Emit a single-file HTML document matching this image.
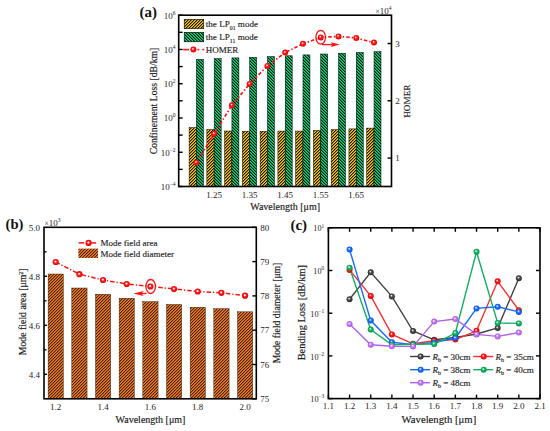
<!DOCTYPE html><html><head><meta charset="utf-8"><style>
html,body{margin:0;padding:0;background:#fff;width:550px;height:431px;overflow:hidden}
svg{display:block}
text{font-family:"Liberation Serif", serif;fill:#1e1e1e}
.ti{stroke:#1e1e1e;stroke-width:0.18px}
.lg{stroke:#1e1e1e;stroke-width:0.15px}
</style></head><body>
<svg width="550" height="431" viewBox="0 0 550 431">
<defs>
<pattern id="hy" patternUnits="userSpaceOnUse" width="3" height="3">
<rect width="3" height="3" fill="#ffcc00"/><rect x="0" y="0" width="1" height="1" fill="#161000"/><rect x="1" y="2" width="1" height="1" fill="#161000"/><rect x="2" y="1" width="1" height="1" fill="#161000"/>
<rect x="1" y="0" width="1" height="1" fill="#403000" fill-opacity="0.5"/><rect x="2" y="2" width="1" height="1" fill="#403000" fill-opacity="0.5"/><rect x="0" y="1" width="1" height="1" fill="#403000" fill-opacity="0.5"/></pattern>
<pattern id="hg" patternUnits="userSpaceOnUse" width="3" height="3">
<rect width="3" height="3" fill="#00dc80"/><rect x="0" y="0" width="1" height="1" fill="#00140a"/><rect x="1" y="1" width="1" height="1" fill="#00140a"/><rect x="2" y="2" width="1" height="1" fill="#00140a"/>
<rect x="1" y="0" width="1" height="1" fill="#003a20" fill-opacity="0.5"/><rect x="2" y="1" width="1" height="1" fill="#003a20" fill-opacity="0.5"/><rect x="0" y="2" width="1" height="1" fill="#003a20" fill-opacity="0.5"/></pattern>
<pattern id="hb" patternUnits="userSpaceOnUse" width="3" height="3">
<rect width="3" height="3" fill="#ff7a10"/><rect x="0" y="0" width="1" height="1" fill="#30221a"/><rect x="1" y="2" width="1" height="1" fill="#3a2a20"/><rect x="2" y="1" width="1" height="1" fill="#3a2a20"/>
<rect x="1" y="0" width="1" height="1" fill="#4a2810" fill-opacity="0.4"/><rect x="2" y="2" width="1" height="1" fill="#4a2810" fill-opacity="0.4"/><rect x="0" y="1" width="1" height="1" fill="#4a2810" fill-opacity="0.4"/></pattern>

<radialGradient id="gr" cx="0.5" cy="0.5" r="0.5" fx="0.4" fy="0.35"><stop offset="0" stop-color="#fff"/><stop offset="0.06" stop-color="#fff"/><stop offset="0.41" stop-color="#ff2020"/><stop offset="1" stop-color="#e80000"/></radialGradient>
<radialGradient id="gr2" cx="0.5" cy="0.5" r="0.5" fx="0.44" fy="0.4"><stop offset="0" stop-color="#fff"/><stop offset="0.16" stop-color="#fff"/><stop offset="0.45999999999999996" stop-color="#ff2020"/><stop offset="1" stop-color="#e80000"/></radialGradient>
<radialGradient id="gk" cx="0.5" cy="0.5" r="0.5" fx="0.4" fy="0.35"><stop offset="0" stop-color="#fff"/><stop offset="0.06" stop-color="#fff"/><stop offset="0.41" stop-color="#555555"/><stop offset="1" stop-color="#2a2a2a"/></radialGradient>
<radialGradient id="gb" cx="0.5" cy="0.5" r="0.5" fx="0.4" fy="0.35"><stop offset="0" stop-color="#fff"/><stop offset="0.06" stop-color="#fff"/><stop offset="0.41" stop-color="#2a78ff"/><stop offset="1" stop-color="#0050e8"/></radialGradient>
<radialGradient id="gg" cx="0.5" cy="0.5" r="0.5" fx="0.4" fy="0.35"><stop offset="0" stop-color="#fff"/><stop offset="0.06" stop-color="#fff"/><stop offset="0.41" stop-color="#20c070"/><stop offset="1" stop-color="#009048"/></radialGradient>
<radialGradient id="gp" cx="0.5" cy="0.5" r="0.5" fx="0.4" fy="0.35"><stop offset="0" stop-color="#fff"/><stop offset="0.06" stop-color="#fff"/><stop offset="0.41" stop-color="#c880f8"/><stop offset="1" stop-color="#a858e8"/></radialGradient>
</defs>
<rect x="189.10" y="127.60" width="7.3" height="58.90" fill="url(#hy)" stroke="#000" stroke-width="0.5"/>
<rect x="196.40" y="59.30" width="7.0" height="127.20" fill="url(#hg)" stroke="#000" stroke-width="0.5"/>
<rect x="206.86" y="129.60" width="7.3" height="56.90" fill="url(#hy)" stroke="#000" stroke-width="0.5"/>
<rect x="214.16" y="58.60" width="7.0" height="127.90" fill="url(#hg)" stroke="#000" stroke-width="0.5"/>
<rect x="224.62" y="131.00" width="7.3" height="55.50" fill="url(#hy)" stroke="#000" stroke-width="0.5"/>
<rect x="231.92" y="57.90" width="7.0" height="128.60" fill="url(#hg)" stroke="#000" stroke-width="0.5"/>
<rect x="242.38" y="131.30" width="7.3" height="55.20" fill="url(#hy)" stroke="#000" stroke-width="0.5"/>
<rect x="249.68" y="57.30" width="7.0" height="129.20" fill="url(#hg)" stroke="#000" stroke-width="0.5"/>
<rect x="260.14" y="131.30" width="7.3" height="55.20" fill="url(#hy)" stroke="#000" stroke-width="0.5"/>
<rect x="267.44" y="56.60" width="7.0" height="129.90" fill="url(#hg)" stroke="#000" stroke-width="0.5"/>
<rect x="277.90" y="131.10" width="7.3" height="55.40" fill="url(#hy)" stroke="#000" stroke-width="0.5"/>
<rect x="285.20" y="55.80" width="7.0" height="130.70" fill="url(#hg)" stroke="#000" stroke-width="0.5"/>
<rect x="295.66" y="131.10" width="7.3" height="55.40" fill="url(#hy)" stroke="#000" stroke-width="0.5"/>
<rect x="302.96" y="54.90" width="7.0" height="131.60" fill="url(#hg)" stroke="#000" stroke-width="0.5"/>
<rect x="313.42" y="130.50" width="7.3" height="56.00" fill="url(#hy)" stroke="#000" stroke-width="0.5"/>
<rect x="320.72" y="54.00" width="7.0" height="132.50" fill="url(#hg)" stroke="#000" stroke-width="0.5"/>
<rect x="331.18" y="129.60" width="7.3" height="56.90" fill="url(#hy)" stroke="#000" stroke-width="0.5"/>
<rect x="338.48" y="53.20" width="7.0" height="133.30" fill="url(#hg)" stroke="#000" stroke-width="0.5"/>
<rect x="348.94" y="128.90" width="7.3" height="57.60" fill="url(#hy)" stroke="#000" stroke-width="0.5"/>
<rect x="356.24" y="52.50" width="7.0" height="134.00" fill="url(#hg)" stroke="#000" stroke-width="0.5"/>
<rect x="366.70" y="128.10" width="7.3" height="58.40" fill="url(#hy)" stroke="#000" stroke-width="0.5"/>
<rect x="374.00" y="51.70" width="7.0" height="134.80" fill="url(#hg)" stroke="#000" stroke-width="0.5"/>
<polyline points="196.40,162.60 214.16,133.80 231.92,105.20 249.68,83.90 267.44,65.90 285.20,52.60 302.96,43.80 320.72,37.40 338.48,36.40 356.24,38.00 374.00,42.60" fill="none" stroke="#ff1414" stroke-width="1.7" stroke-dasharray="3.4,2.1,1.4,2.1"/>
<circle cx="196.40" cy="162.60" r="3.0" fill="url(#gr)"/>
<circle cx="214.16" cy="133.80" r="3.0" fill="url(#gr)"/>
<circle cx="231.92" cy="105.20" r="3.0" fill="url(#gr)"/>
<circle cx="249.68" cy="83.90" r="3.0" fill="url(#gr)"/>
<circle cx="267.44" cy="65.90" r="3.0" fill="url(#gr)"/>
<circle cx="285.20" cy="52.60" r="3.0" fill="url(#gr)"/>
<circle cx="302.96" cy="43.80" r="3.0" fill="url(#gr)"/>
<circle cx="320.72" cy="37.40" r="3.0" fill="url(#gr)"/>
<circle cx="338.48" cy="36.40" r="3.0" fill="url(#gr)"/>
<circle cx="356.24" cy="38.00" r="3.0" fill="url(#gr)"/>
<circle cx="374.00" cy="42.60" r="3.0" fill="url(#gr)"/>
<ellipse cx="320.7" cy="37.2" rx="4.8" ry="6.9" fill="none" stroke="#ff1414" stroke-width="1.3"/>
<line x1="322.00" y1="44.60" x2="333.00" y2="44.60" stroke="#ff1414" stroke-width="1.3" />
<polygon points="339.8,44.6 330.8,42.2 332.3,44.6 330.8,47" fill="#ff1414"/>
<rect x="178.7" y="15.2" width="212.8" height="171.3" fill="none" stroke="#000" stroke-width="1.6"/>
<line x1="178.70" y1="186.50" x2="182.70" y2="186.50" stroke="#000" stroke-width="1.4" />
<text x="175.50" y="189.90" font-size="9" text-anchor="end" font-weight="normal" >10<tspan dy="-4" font-size="5.5">&#8722;4</tspan></text>
<line x1="178.70" y1="169.37" x2="182.70" y2="169.37" stroke="#000" stroke-width="1.4" />
<line x1="178.70" y1="152.24" x2="182.70" y2="152.24" stroke="#000" stroke-width="1.4" />
<text x="175.50" y="155.64" font-size="9" text-anchor="end" font-weight="normal" >10<tspan dy="-4" font-size="5.5">&#8722;2</tspan></text>
<line x1="178.70" y1="135.11" x2="182.70" y2="135.11" stroke="#000" stroke-width="1.4" />
<line x1="178.70" y1="117.98" x2="182.70" y2="117.98" stroke="#000" stroke-width="1.4" />
<text x="175.50" y="121.38" font-size="9" text-anchor="end" font-weight="normal" >10<tspan dy="-4" font-size="5.5">0</tspan></text>
<line x1="178.70" y1="100.85" x2="182.70" y2="100.85" stroke="#000" stroke-width="1.4" />
<line x1="178.70" y1="83.72" x2="182.70" y2="83.72" stroke="#000" stroke-width="1.4" />
<text x="175.50" y="87.12" font-size="9" text-anchor="end" font-weight="normal" >10<tspan dy="-4" font-size="5.5">2</tspan></text>
<line x1="178.70" y1="66.59" x2="182.70" y2="66.59" stroke="#000" stroke-width="1.4" />
<line x1="178.70" y1="49.46" x2="182.70" y2="49.46" stroke="#000" stroke-width="1.4" />
<text x="175.50" y="52.86" font-size="9" text-anchor="end" font-weight="normal" >10<tspan dy="-4" font-size="5.5">4</tspan></text>
<line x1="178.70" y1="32.33" x2="182.70" y2="32.33" stroke="#000" stroke-width="1.4" />
<line x1="178.70" y1="15.20" x2="182.70" y2="15.20" stroke="#000" stroke-width="1.4" />
<text x="175.50" y="18.60" font-size="9" text-anchor="end" font-weight="normal" >10<tspan dy="-4" font-size="5.5">6</tspan></text>
<line x1="387.50" y1="158.10" x2="391.50" y2="158.10" stroke="#000" stroke-width="1.4" />
<text x="395.30" y="161.30" font-size="9" text-anchor="start" font-weight="normal" >1</text>
<line x1="387.50" y1="100.80" x2="391.50" y2="100.80" stroke="#000" stroke-width="1.4" />
<text x="395.30" y="104.00" font-size="9" text-anchor="start" font-weight="normal" >2</text>
<line x1="387.50" y1="43.50" x2="391.50" y2="43.50" stroke="#000" stroke-width="1.4" />
<text x="395.30" y="46.70" font-size="9" text-anchor="start" font-weight="normal" >3</text>
<text x="391.50" y="13.60" font-size="9" text-anchor="end" font-weight="normal" ><tspan font-size="7.5">&#215;</tspan>10<tspan dy="-4" font-size="5.5">4</tspan></text>
<text x="214.16" y="197.50" font-size="9" text-anchor="middle" font-weight="normal" >1.25</text>
<text x="249.68" y="197.50" font-size="9" text-anchor="middle" font-weight="normal" >1.35</text>
<text x="285.20" y="197.50" font-size="9" text-anchor="middle" font-weight="normal" >1.45</text>
<text x="320.72" y="197.50" font-size="9" text-anchor="middle" font-weight="normal" >1.55</text>
<text x="356.24" y="197.50" font-size="9" text-anchor="middle" font-weight="normal" >1.65</text>
<text x="285.20" y="209.90" font-size="10" text-anchor="middle" font-weight="normal" class="ti">Wavelength [&#956;m]</text>
<text x="0" y="0" font-size="9.7" text-anchor="middle" class="ti" transform="translate(156.60,101.00) rotate(-90)">Confinement Loss [dB/km]</text>
<text x="0" y="0" font-size="9.2" text-anchor="middle" class="ti" transform="translate(410.40,101.20) rotate(-90)">HOMER</text>
<text x="139.50" y="16.90" font-size="15" text-anchor="start" font-weight="bold" style="fill:#111">(a)</text>
<rect x="184.2" y="19.4" width="19.5" height="9.3" fill="url(#hy)" stroke="#000" stroke-width="0.6"/>
<rect x="184.2" y="32.3" width="19.5" height="9.5" fill="url(#hg)" stroke="#000" stroke-width="0.6"/>
<text x="205.80" y="27.10" font-size="9.1" text-anchor="start" font-weight="normal" class="lg">the LP<tspan dy="3" font-size="5.8">01</tspan><tspan dy="-3"> mode</tspan></text>
<text x="205.80" y="39.90" font-size="9.1" text-anchor="start" font-weight="normal" class="lg">the LP<tspan dy="3" font-size="5.8">11</tspan><tspan dy="-3"> mode</tspan></text>
<line x1="183.20" y1="49.60" x2="189.00" y2="49.60" stroke="#ff1414" stroke-width="1.6" />
<line x1="197.50" y1="49.60" x2="199.30" y2="49.60" stroke="#ff1414" stroke-width="1.6" />
<line x1="202.40" y1="49.60" x2="204.20" y2="49.60" stroke="#ff1414" stroke-width="1.6" />
<circle cx="193.40" cy="49.60" r="3.0" fill="url(#gr)"/>
<text x="205.80" y="53.00" font-size="9.0" text-anchor="start" font-weight="normal" class="lg">HOMER</text>
<rect x="48.10" y="274.00" width="15.3" height="124.80" fill="url(#hb)" stroke="#2a1a10" stroke-width="0.4"/>
<rect x="71.77" y="288.00" width="15.3" height="110.80" fill="url(#hb)" stroke="#2a1a10" stroke-width="0.4"/>
<rect x="95.44" y="294.20" width="15.3" height="104.60" fill="url(#hb)" stroke="#2a1a10" stroke-width="0.4"/>
<rect x="119.11" y="298.20" width="15.3" height="100.60" fill="url(#hb)" stroke="#2a1a10" stroke-width="0.4"/>
<rect x="142.78" y="301.60" width="15.3" height="97.20" fill="url(#hb)" stroke="#2a1a10" stroke-width="0.4"/>
<rect x="166.45" y="304.40" width="15.3" height="94.40" fill="url(#hb)" stroke="#2a1a10" stroke-width="0.4"/>
<rect x="190.12" y="307.20" width="15.3" height="91.60" fill="url(#hb)" stroke="#2a1a10" stroke-width="0.4"/>
<rect x="213.79" y="308.60" width="15.3" height="90.20" fill="url(#hb)" stroke="#2a1a10" stroke-width="0.4"/>
<rect x="237.46" y="311.80" width="15.3" height="87.00" fill="url(#hb)" stroke="#2a1a10" stroke-width="0.4"/>
<polyline points="55.70,262.00 79.37,274.20 103.04,280.00 126.71,284.00 150.38,286.50 174.05,289.00 197.72,291.50 221.39,292.80 245.06,295.70" fill="none" stroke="#ff1414" stroke-width="1.5" stroke-dasharray="4.5,2,1.2,2"/>
<circle cx="55.70" cy="262.00" r="3.1" fill="url(#gr2)"/>
<circle cx="79.37" cy="274.20" r="3.1" fill="url(#gr2)"/>
<circle cx="103.04" cy="280.00" r="3.1" fill="url(#gr2)"/>
<circle cx="126.71" cy="284.00" r="3.1" fill="url(#gr2)"/>
<circle cx="150.38" cy="286.50" r="3.1" fill="url(#gr2)"/>
<circle cx="174.05" cy="289.00" r="3.1" fill="url(#gr2)"/>
<circle cx="197.72" cy="291.50" r="3.1" fill="url(#gr2)"/>
<circle cx="221.39" cy="292.80" r="3.1" fill="url(#gr2)"/>
<circle cx="245.06" cy="295.70" r="3.1" fill="url(#gr2)"/>
<ellipse cx="150.7" cy="286.5" rx="4.8" ry="7" fill="none" stroke="#ff1414" stroke-width="1.3"/>
<line x1="146.60" y1="293.50" x2="139.00" y2="293.50" stroke="#ff1414" stroke-width="1.3" />
<polygon points="133.6,293.5 143.4,291 141.8,293.5 143.4,296" fill="#ff1414"/>
<rect x="44" y="227.3" width="212.3" height="171.5" fill="none" stroke="#000" stroke-width="1.6"/>
<line x1="44.00" y1="374.30" x2="47.00" y2="374.30" stroke="#000" stroke-width="1.4" />
<text x="40.00" y="377.50" font-size="9" text-anchor="end" font-weight="normal" >4.4</text>
<line x1="44.00" y1="349.80" x2="46.50" y2="349.80" stroke="#000" stroke-width="1.4" />
<line x1="44.00" y1="325.30" x2="47.00" y2="325.30" stroke="#000" stroke-width="1.4" />
<text x="40.00" y="328.50" font-size="9" text-anchor="end" font-weight="normal" >4.6</text>
<line x1="44.00" y1="300.80" x2="46.50" y2="300.80" stroke="#000" stroke-width="1.4" />
<line x1="44.00" y1="276.30" x2="47.00" y2="276.30" stroke="#000" stroke-width="1.4" />
<text x="40.00" y="279.50" font-size="9" text-anchor="end" font-weight="normal" >4.8</text>
<line x1="44.00" y1="251.80" x2="46.50" y2="251.80" stroke="#000" stroke-width="1.4" />
<text x="40.00" y="230.50" font-size="9" text-anchor="end" font-weight="normal" >5.0</text>
<line x1="252.30" y1="398.80" x2="256.30" y2="398.80" stroke="#000" stroke-width="1.4" />
<text x="260.30" y="402.00" font-size="9" text-anchor="start" font-weight="normal" >75</text>
<line x1="252.30" y1="364.50" x2="256.30" y2="364.50" stroke="#000" stroke-width="1.4" />
<text x="260.30" y="367.70" font-size="9" text-anchor="start" font-weight="normal" >76</text>
<line x1="252.30" y1="330.20" x2="256.30" y2="330.20" stroke="#000" stroke-width="1.4" />
<text x="260.30" y="333.40" font-size="9" text-anchor="start" font-weight="normal" >77</text>
<line x1="252.30" y1="295.90" x2="256.30" y2="295.90" stroke="#000" stroke-width="1.4" />
<text x="260.30" y="299.10" font-size="9" text-anchor="start" font-weight="normal" >78</text>
<line x1="252.30" y1="261.60" x2="256.30" y2="261.60" stroke="#000" stroke-width="1.4" />
<text x="260.30" y="264.80" font-size="9" text-anchor="start" font-weight="normal" >79</text>
<line x1="252.30" y1="227.30" x2="256.30" y2="227.30" stroke="#000" stroke-width="1.4" />
<text x="260.30" y="230.50" font-size="9" text-anchor="start" font-weight="normal" >80</text>
<text x="44.50" y="225.50" font-size="9" text-anchor="start" font-weight="normal" ><tspan font-size="7.5">&#215;</tspan>10<tspan dy="-4" font-size="5.5">3</tspan></text>
<text x="55.70" y="409.90" font-size="9" text-anchor="middle" font-weight="normal" >1.2</text>
<text x="103.04" y="409.90" font-size="9" text-anchor="middle" font-weight="normal" >1.4</text>
<text x="150.38" y="409.90" font-size="9" text-anchor="middle" font-weight="normal" >1.6</text>
<text x="197.72" y="409.90" font-size="9" text-anchor="middle" font-weight="normal" >1.8</text>
<text x="245.06" y="409.90" font-size="9" text-anchor="middle" font-weight="normal" >2.0</text>
<text x="150.50" y="423.00" font-size="10" text-anchor="middle" font-weight="normal" class="ti">Wavelength [&#956;m]</text>
<text x="0" y="0" font-size="9.8" text-anchor="middle" class="ti" transform="translate(26.20,311.80) rotate(-90)">Mode field area [&#956;m<tspan dy="-3.5" font-size="6">2</tspan><tspan dy="3.5">]</tspan></text>
<text x="0" y="0" font-size="9.7" text-anchor="middle" class="ti" transform="translate(280.30,313.00) rotate(-90)">Mode field diameter [&#956;m]</text>
<text x="5.60" y="229.30" font-size="14.6" text-anchor="start" font-weight="bold" style="fill:#111">(b)</text>
<line x1="78.60" y1="242.90" x2="84.20" y2="242.90" stroke="#ff1414" stroke-width="1.5" />
<line x1="91.50" y1="242.90" x2="96.20" y2="242.90" stroke="#ff1414" stroke-width="1.5" />
<circle cx="88.60" cy="242.90" r="3.1" fill="url(#gr2)"/>
<rect x="78.4" y="248.6" width="19.6" height="9.4" fill="url(#hb)"/>
<text x="100.60" y="245.60" font-size="9" text-anchor="start" font-weight="normal" class="lg">Mode field area</text>
<text x="100.60" y="256.60" font-size="9" text-anchor="start" font-weight="normal" class="lg">Mode field diameter</text>
<polyline points="349.56,299.20 370.72,272.30 391.88,296.40 413.04,331.00 434.20,339.80 455.36,337.50 476.52,334.00 497.68,328.00 518.84,278.20" fill="none" stroke="#404040" stroke-width="1.4"/>
<polyline points="349.56,269.90 370.72,295.90 391.88,334.50 413.04,343.80 434.20,340.70 455.36,339.60 476.52,330.80 497.68,281.30 518.84,310.20" fill="none" stroke="#ff2a2a" stroke-width="1.4"/>
<polyline points="349.56,249.50 370.72,320.60 391.88,342.30 413.04,344.60 434.20,342.50 455.36,338.00 476.52,308.40 497.68,306.80 518.84,311.90" fill="none" stroke="#1a6aff" stroke-width="1.4"/>
<polyline points="349.56,267.70 370.72,329.50 391.88,344.70 413.04,344.30 434.20,344.00 455.36,333.00 476.52,251.80 497.68,322.90 518.84,323.40" fill="none" stroke="#10b060" stroke-width="1.4"/>
<polyline points="349.56,324.00 370.72,344.70 391.88,346.30 413.04,346.40 434.20,321.60 455.36,319.00 476.52,334.40 497.68,336.40 518.84,332.60" fill="none" stroke="#b060f0" stroke-width="1.4"/>
<circle cx="349.56" cy="299.20" r="3" fill="url(#gk)"/>
<circle cx="370.72" cy="272.30" r="3" fill="url(#gk)"/>
<circle cx="391.88" cy="296.40" r="3" fill="url(#gk)"/>
<circle cx="413.04" cy="331.00" r="3" fill="url(#gk)"/>
<circle cx="434.20" cy="339.80" r="3" fill="url(#gk)"/>
<circle cx="455.36" cy="337.50" r="3" fill="url(#gk)"/>
<circle cx="476.52" cy="334.00" r="3" fill="url(#gk)"/>
<circle cx="497.68" cy="328.00" r="3" fill="url(#gk)"/>
<circle cx="518.84" cy="278.20" r="3" fill="url(#gk)"/>
<circle cx="349.56" cy="269.90" r="3" fill="url(#gr)"/>
<circle cx="370.72" cy="295.90" r="3" fill="url(#gr)"/>
<circle cx="391.88" cy="334.50" r="3" fill="url(#gr)"/>
<circle cx="413.04" cy="343.80" r="3" fill="url(#gr)"/>
<circle cx="434.20" cy="340.70" r="3" fill="url(#gr)"/>
<circle cx="455.36" cy="339.60" r="3" fill="url(#gr)"/>
<circle cx="476.52" cy="330.80" r="3" fill="url(#gr)"/>
<circle cx="497.68" cy="281.30" r="3" fill="url(#gr)"/>
<circle cx="518.84" cy="310.20" r="3" fill="url(#gr)"/>
<circle cx="349.56" cy="249.50" r="3" fill="url(#gb)"/>
<circle cx="370.72" cy="320.60" r="3" fill="url(#gb)"/>
<circle cx="391.88" cy="342.30" r="3" fill="url(#gb)"/>
<circle cx="413.04" cy="344.60" r="3" fill="url(#gb)"/>
<circle cx="434.20" cy="342.50" r="3" fill="url(#gb)"/>
<circle cx="455.36" cy="338.00" r="3" fill="url(#gb)"/>
<circle cx="476.52" cy="308.40" r="3" fill="url(#gb)"/>
<circle cx="497.68" cy="306.80" r="3" fill="url(#gb)"/>
<circle cx="518.84" cy="311.90" r="3" fill="url(#gb)"/>
<circle cx="349.56" cy="267.70" r="3" fill="url(#gg)"/>
<circle cx="370.72" cy="329.50" r="3" fill="url(#gg)"/>
<circle cx="391.88" cy="344.70" r="3" fill="url(#gg)"/>
<circle cx="413.04" cy="344.30" r="3" fill="url(#gg)"/>
<circle cx="434.20" cy="344.00" r="3" fill="url(#gg)"/>
<circle cx="455.36" cy="333.00" r="3" fill="url(#gg)"/>
<circle cx="476.52" cy="251.80" r="3" fill="url(#gg)"/>
<circle cx="497.68" cy="322.90" r="3" fill="url(#gg)"/>
<circle cx="518.84" cy="323.40" r="3" fill="url(#gg)"/>
<circle cx="349.56" cy="324.00" r="3" fill="url(#gp)"/>
<circle cx="370.72" cy="344.70" r="3" fill="url(#gp)"/>
<circle cx="391.88" cy="346.30" r="3" fill="url(#gp)"/>
<circle cx="413.04" cy="346.40" r="3" fill="url(#gp)"/>
<circle cx="434.20" cy="321.60" r="3" fill="url(#gp)"/>
<circle cx="455.36" cy="319.00" r="3" fill="url(#gp)"/>
<circle cx="476.52" cy="334.40" r="3" fill="url(#gp)"/>
<circle cx="497.68" cy="336.40" r="3" fill="url(#gp)"/>
<circle cx="518.84" cy="332.60" r="3" fill="url(#gp)"/>
<rect x="328.4" y="227.8" width="211.60000000000002" height="170.8" fill="none" stroke="#000" stroke-width="1.6"/>
<line x1="328.40" y1="398.60" x2="332.40" y2="398.60" stroke="#000" stroke-width="1.4" />
<line x1="536.00" y1="398.60" x2="540.00" y2="398.60" stroke="#000" stroke-width="1.4" />
<text x="324.20" y="402.20" font-size="8.2" text-anchor="end" font-weight="normal" >10<tspan dy="-3.8" font-size="5.3">&#8722;3</tspan></text>
<line x1="328.40" y1="355.90" x2="332.40" y2="355.90" stroke="#000" stroke-width="1.4" />
<line x1="536.00" y1="355.90" x2="540.00" y2="355.90" stroke="#000" stroke-width="1.4" />
<text x="324.20" y="359.50" font-size="8.2" text-anchor="end" font-weight="normal" >10<tspan dy="-3.8" font-size="5.3">&#8722;2</tspan></text>
<line x1="328.40" y1="313.20" x2="332.40" y2="313.20" stroke="#000" stroke-width="1.4" />
<line x1="536.00" y1="313.20" x2="540.00" y2="313.20" stroke="#000" stroke-width="1.4" />
<text x="324.20" y="316.80" font-size="8.2" text-anchor="end" font-weight="normal" >10<tspan dy="-3.8" font-size="5.3">&#8722;1</tspan></text>
<line x1="328.40" y1="270.50" x2="332.40" y2="270.50" stroke="#000" stroke-width="1.4" />
<line x1="536.00" y1="270.50" x2="540.00" y2="270.50" stroke="#000" stroke-width="1.4" />
<text x="324.20" y="274.10" font-size="8.2" text-anchor="end" font-weight="normal" >10<tspan dy="-3.8" font-size="5.3">0</tspan></text>
<line x1="328.40" y1="227.80" x2="332.40" y2="227.80" stroke="#000" stroke-width="1.4" />
<line x1="536.00" y1="227.80" x2="540.00" y2="227.80" stroke="#000" stroke-width="1.4" />
<text x="324.20" y="231.40" font-size="8.2" text-anchor="end" font-weight="normal" >10<tspan dy="-3.8" font-size="5.3">1</tspan></text>
<line x1="328.40" y1="398.60" x2="328.40" y2="394.60" stroke="#000" stroke-width="1.4" />
<line x1="328.40" y1="227.80" x2="328.40" y2="231.80" stroke="#000" stroke-width="1.4" />
<text x="328.40" y="409.30" font-size="9" text-anchor="middle" font-weight="normal" >1.1</text>
<line x1="349.56" y1="398.60" x2="349.56" y2="394.60" stroke="#000" stroke-width="1.4" />
<line x1="349.56" y1="227.80" x2="349.56" y2="231.80" stroke="#000" stroke-width="1.4" />
<text x="349.56" y="409.30" font-size="9" text-anchor="middle" font-weight="normal" >1.2</text>
<line x1="370.72" y1="398.60" x2="370.72" y2="394.60" stroke="#000" stroke-width="1.4" />
<line x1="370.72" y1="227.80" x2="370.72" y2="231.80" stroke="#000" stroke-width="1.4" />
<text x="370.72" y="409.30" font-size="9" text-anchor="middle" font-weight="normal" >1.3</text>
<line x1="391.88" y1="398.60" x2="391.88" y2="394.60" stroke="#000" stroke-width="1.4" />
<line x1="391.88" y1="227.80" x2="391.88" y2="231.80" stroke="#000" stroke-width="1.4" />
<text x="391.88" y="409.30" font-size="9" text-anchor="middle" font-weight="normal" >1.4</text>
<line x1="413.04" y1="398.60" x2="413.04" y2="394.60" stroke="#000" stroke-width="1.4" />
<line x1="413.04" y1="227.80" x2="413.04" y2="231.80" stroke="#000" stroke-width="1.4" />
<text x="413.04" y="409.30" font-size="9" text-anchor="middle" font-weight="normal" >1.5</text>
<line x1="434.20" y1="398.60" x2="434.20" y2="394.60" stroke="#000" stroke-width="1.4" />
<line x1="434.20" y1="227.80" x2="434.20" y2="231.80" stroke="#000" stroke-width="1.4" />
<text x="434.20" y="409.30" font-size="9" text-anchor="middle" font-weight="normal" >1.6</text>
<line x1="455.36" y1="398.60" x2="455.36" y2="394.60" stroke="#000" stroke-width="1.4" />
<line x1="455.36" y1="227.80" x2="455.36" y2="231.80" stroke="#000" stroke-width="1.4" />
<text x="455.36" y="409.30" font-size="9" text-anchor="middle" font-weight="normal" >1.7</text>
<line x1="476.52" y1="398.60" x2="476.52" y2="394.60" stroke="#000" stroke-width="1.4" />
<line x1="476.52" y1="227.80" x2="476.52" y2="231.80" stroke="#000" stroke-width="1.4" />
<text x="476.52" y="409.30" font-size="9" text-anchor="middle" font-weight="normal" >1.8</text>
<line x1="497.68" y1="398.60" x2="497.68" y2="394.60" stroke="#000" stroke-width="1.4" />
<line x1="497.68" y1="227.80" x2="497.68" y2="231.80" stroke="#000" stroke-width="1.4" />
<text x="497.68" y="409.30" font-size="9" text-anchor="middle" font-weight="normal" >1.9</text>
<line x1="518.84" y1="398.60" x2="518.84" y2="394.60" stroke="#000" stroke-width="1.4" />
<line x1="518.84" y1="227.80" x2="518.84" y2="231.80" stroke="#000" stroke-width="1.4" />
<text x="518.84" y="409.30" font-size="9" text-anchor="middle" font-weight="normal" >2.0</text>
<line x1="540.00" y1="398.60" x2="540.00" y2="394.60" stroke="#000" stroke-width="1.4" />
<line x1="540.00" y1="227.80" x2="540.00" y2="231.80" stroke="#000" stroke-width="1.4" />
<text x="540.00" y="409.30" font-size="9" text-anchor="middle" font-weight="normal" >2.1</text>
<text x="438.90" y="422.80" font-size="10.7" text-anchor="middle" font-weight="normal" class="ti">Wavelength [&#956;m]</text>
<text x="0" y="0" font-size="10.4" text-anchor="middle" class="ti" transform="translate(305.00,312.70) rotate(-90)">Bending Loss [dB/km]</text>
<text x="290.40" y="229.60" font-size="15" text-anchor="start" font-weight="bold" style="fill:#111">(c)</text>
<line x1="410.10" y1="356.50" x2="430.10" y2="356.50" stroke="#404040" stroke-width="1.4" />
<circle cx="420.60" cy="356.50" r="3" fill="url(#gk)"/>
<text x="432.50" y="359.70" font-size="9" text-anchor="start" font-weight="normal" class="lg"><tspan font-style="italic">R</tspan><tspan dy="2" font-size="6">b</tspan><tspan dy="-2"> = 30cm</tspan></text>
<line x1="473.20" y1="356.50" x2="493.20" y2="356.50" stroke="#ff2a2a" stroke-width="1.4" />
<circle cx="483.70" cy="356.50" r="3" fill="url(#gr)"/>
<text x="495.60" y="359.70" font-size="9" text-anchor="start" font-weight="normal" class="lg"><tspan font-style="italic">R</tspan><tspan dy="2" font-size="6">b</tspan><tspan dy="-2"> = 35cm</tspan></text>
<line x1="410.10" y1="369.70" x2="430.10" y2="369.70" stroke="#1a6aff" stroke-width="1.4" />
<circle cx="420.60" cy="369.70" r="3" fill="url(#gb)"/>
<text x="432.50" y="372.90" font-size="9" text-anchor="start" font-weight="normal" class="lg"><tspan font-style="italic">R</tspan><tspan dy="2" font-size="6">b</tspan><tspan dy="-2"> = 38cm</tspan></text>
<line x1="473.20" y1="369.70" x2="493.20" y2="369.70" stroke="#10b060" stroke-width="1.4" />
<circle cx="483.70" cy="369.70" r="3" fill="url(#gg)"/>
<text x="495.60" y="372.90" font-size="9" text-anchor="start" font-weight="normal" class="lg"><tspan font-style="italic">R</tspan><tspan dy="2" font-size="6">b</tspan><tspan dy="-2"> = 40cm</tspan></text>
<line x1="410.10" y1="382.70" x2="430.10" y2="382.70" stroke="#b060f0" stroke-width="1.4" />
<circle cx="420.60" cy="382.70" r="3" fill="url(#gp)"/>
<text x="432.50" y="385.90" font-size="9" text-anchor="start" font-weight="normal" class="lg"><tspan font-style="italic">R</tspan><tspan dy="2" font-size="6">b</tspan><tspan dy="-2"> = 48cm</tspan></text>
</svg></body></html>
